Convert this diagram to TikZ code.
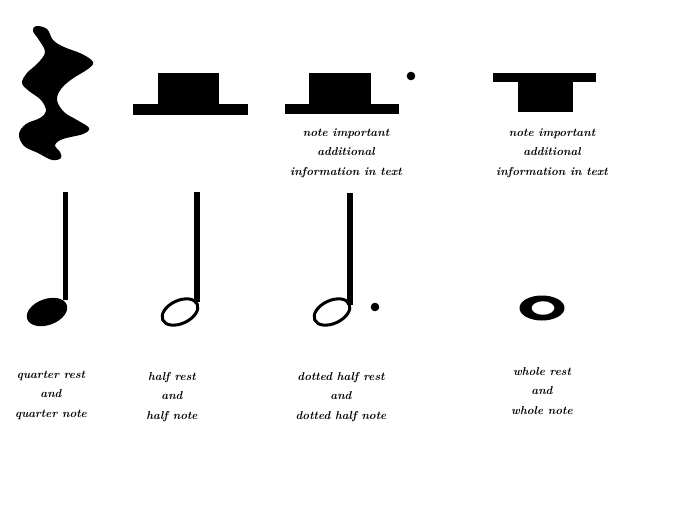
\documentclass[tikz,border=0pt]{standalone}
\begin{document}
\begin{tikzpicture}[x=1pt,y=-1pt,
  lbl/.style={align=center,inner sep=0pt,font=\fontsize{11.5}{19.5}\selectfont\bfseries\itshape},
  ink/.style={fill=black,draw=none}]
\useasboundingbox[fill=white] (0,0) rectangle (700,525);
% quarter rest
\fill[ink] plot[smooth cycle,tension=0.6] coordinates {
 (36,26) (47,29) (53,40) (64,47) (82,54) (93,62) (88,69) (72,79) (61,89)
 (57,100) (64,112) (77,120) (89,128) (83,134) (63,139) (55,145) (60,152)
 (61,158) (52,160) (38,153) (24,146) (19,134) (26,124) (40,118) (46,111)
 (41,100) (29,91) (22,83) (27,73) (38,63) (45,52) (39,40) (33,31)};
% half rest
\fill[ink] (158,73) rectangle (219,105);
\fill[ink] (133,104) rectangle (248,115);
% dotted half rest
\fill[ink] (309,73) rectangle (371,105);
\fill[ink] (285,104) rectangle (399,114);
\fill[ink] (411,76) circle[radius=4.3];
% whole rest
\fill[ink] (493,73) rectangle (596,82);
\fill[ink] (518,81) rectangle (573,112);
% quarter note
\fill[ink] (63,192) rectangle (68,300);
\fill[ink,shift={(47,312)},rotate=20] (0,0) ellipse[x radius=21,y radius=13];
% half note
\fill[ink] (194,192) rectangle (200,302);
\draw[line width=3,shift={(180,312)},rotate=25] (0,0) ellipse[x radius=19,y radius=11.5];
% dotted half note
\fill[ink] (347,193) rectangle (353,305);
\draw[line width=3,shift={(332,312)},rotate=25] (0,0) ellipse[x radius=19,y radius=11.5];
\fill[ink] (375,307) circle[radius=4.3];
% whole note
\fill[ink,even odd rule] (542,308) ellipse[x radius=22.5,y radius=12.5]
  (543,308) ellipse[x radius=11.5,y radius=6.8];
% labels
\node[lbl] (t3) at (346,153) {note important\\additional\\information in text};
\node[lbl] (t4) at (552,153) {note important\\additional\\information in text};
\node[lbl] (l1) at (51,395) {quarter rest\\and\\quarter note};
\node[lbl] (l2) at (172,397) {half rest\\and\\half note};
\node[lbl] (l3) at (341,397) {dotted half rest\\and\\dotted half note};
\node[lbl] (l4) at (542,391) {whole rest\\and\\whole note};
\end{tikzpicture}
\end{document}
